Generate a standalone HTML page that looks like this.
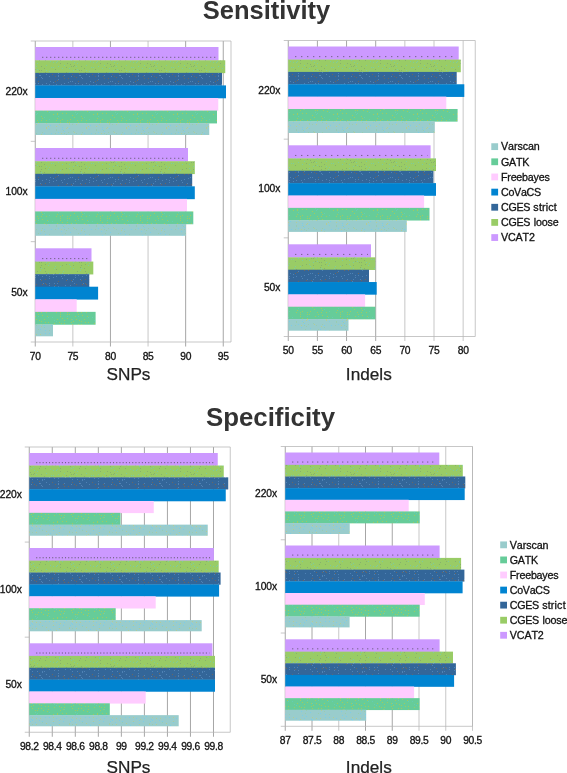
<!DOCTYPE html>
<html><head><meta charset="utf-8"><title>Sensitivity and Specificity</title>
<style>html,body{margin:0;padding:0;background:#fff}svg{display:block}text{font-family:"Liberation Sans",sans-serif;font-kerning:none}.s{font-size:10.3px;fill:#111;stroke:#111;stroke-width:.3px;letter-spacing:-.35px}.l{font-size:10.7px;fill:#111;stroke:#111;stroke-width:.3px;letter-spacing:-.3px}</style></head><body>
<svg width="567" height="773" viewBox="0 0 567 773">
<rect width="567" height="773" fill="#fff"/>
<defs>
<pattern id="nloose" width="40" height="24" patternUnits="userSpaceOnUse">
<rect width="40" height="24" fill="#99cc66"/>
<rect x="1" y="1" width="1" height="1" fill="#7a9a70" opacity=".55"/>
<rect x="0" y="3" width="1" height="1" fill="#7a9a70" opacity=".55"/>
<rect x="1" y="4" width="1" height="1" fill="#66cccc" opacity=".55"/>
<rect x="0" y="6" width="1" height="1" fill="#66cccc" opacity=".55"/>
<rect x="0" y="10" width="1" height="1" fill="#7a9a70" opacity=".55"/>
<rect x="1" y="18" width="1" height="1" fill="#7a9a70" opacity=".55"/>
<rect x="1" y="22" width="1" height="1" fill="#7a9a70" opacity=".55"/>
<rect x="5" y="0" width="1" height="1" fill="#7a9a70" opacity=".55"/>
<rect x="4" y="4" width="1" height="1" fill="#7a9a70" opacity=".55"/>
<rect x="5" y="7" width="1" height="1" fill="#7a9a70" opacity=".55"/>
<rect x="6" y="9" width="1" height="1" fill="#7a9a70" opacity=".55"/>
<rect x="5" y="12" width="1" height="1" fill="#7a9a70" opacity=".55"/>
<rect x="6" y="17" width="1" height="1" fill="#66cccc" opacity=".55"/>
<rect x="4" y="20" width="1" height="1" fill="#7a9a70" opacity=".55"/>
<rect x="6" y="22" width="1" height="1" fill="#66cccc" opacity=".55"/>
<rect x="8" y="1" width="1" height="1" fill="#66cccc" opacity=".55"/>
<rect x="8" y="9" width="1" height="1" fill="#66cccc" opacity=".55"/>
<rect x="10" y="13" width="1" height="1" fill="#66cccc" opacity=".55"/>
<rect x="11" y="19" width="1" height="1" fill="#66cccc" opacity=".55"/>
<rect x="9" y="23" width="1" height="1" fill="#66cccc" opacity=".55"/>
<rect x="15" y="2" width="1" height="1" fill="#66cccc" opacity=".55"/>
<rect x="14" y="4" width="1" height="1" fill="#66cccc" opacity=".55"/>
<rect x="15" y="9" width="1" height="1" fill="#7a9a70" opacity=".55"/>
<rect x="13" y="14" width="1" height="1" fill="#66cccc" opacity=".55"/>
<rect x="13" y="19" width="1" height="1" fill="#66cccc" opacity=".55"/>
<rect x="15" y="21" width="1" height="1" fill="#7a9a70" opacity=".55"/>
<rect x="16" y="5" width="1" height="1" fill="#7a9a70" opacity=".55"/>
<rect x="19" y="9" width="1" height="1" fill="#66cccc" opacity=".55"/>
<rect x="19" y="10" width="1" height="1" fill="#66cccc" opacity=".55"/>
<rect x="17" y="13" width="1" height="1" fill="#66cccc" opacity=".55"/>
<rect x="16" y="14" width="1" height="1" fill="#66cccc" opacity=".55"/>
<rect x="18" y="18" width="1" height="1" fill="#66cccc" opacity=".55"/>
<rect x="22" y="1" width="1" height="1" fill="#7a9a70" opacity=".55"/>
<rect x="20" y="2" width="1" height="1" fill="#66cccc" opacity=".55"/>
<rect x="23" y="7" width="1" height="1" fill="#66cccc" opacity=".55"/>
<rect x="22" y="9" width="1" height="1" fill="#66cccc" opacity=".55"/>
<rect x="20" y="12" width="1" height="1" fill="#7a9a70" opacity=".55"/>
<rect x="20" y="15" width="1" height="1" fill="#7a9a70" opacity=".55"/>
<rect x="22" y="20" width="1" height="1" fill="#66cccc" opacity=".55"/>
<rect x="26" y="0" width="1" height="1" fill="#7a9a70" opacity=".55"/>
<rect x="27" y="15" width="1" height="1" fill="#7a9a70" opacity=".55"/>
<rect x="24" y="17" width="1" height="1" fill="#66cccc" opacity=".55"/>
<rect x="26" y="19" width="1" height="1" fill="#7a9a70" opacity=".55"/>
<rect x="29" y="0" width="1" height="1" fill="#66cccc" opacity=".55"/>
<rect x="30" y="2" width="1" height="1" fill="#66cccc" opacity=".55"/>
<rect x="30" y="10" width="1" height="1" fill="#7a9a70" opacity=".55"/>
<rect x="31" y="12" width="1" height="1" fill="#66cccc" opacity=".55"/>
<rect x="30" y="16" width="1" height="1" fill="#7a9a70" opacity=".55"/>
<rect x="31" y="18" width="1" height="1" fill="#7a9a70" opacity=".55"/>
<rect x="29" y="20" width="1" height="1" fill="#66cccc" opacity=".55"/>
<rect x="33" y="1" width="1" height="1" fill="#7a9a70" opacity=".55"/>
<rect x="33" y="4" width="1" height="1" fill="#66cccc" opacity=".55"/>
<rect x="33" y="11" width="1" height="1" fill="#66cccc" opacity=".55"/>
<rect x="34" y="14" width="1" height="1" fill="#66cccc" opacity=".55"/>
<rect x="34" y="17" width="1" height="1" fill="#7a9a70" opacity=".55"/>
<rect x="33" y="18" width="1" height="1" fill="#7a9a70" opacity=".55"/>
<rect x="35" y="21" width="1" height="1" fill="#7a9a70" opacity=".55"/>
<rect x="33" y="22" width="1" height="1" fill="#66cccc" opacity=".55"/>
<rect x="37" y="7" width="1" height="1" fill="#7a9a70" opacity=".55"/>
<rect x="39" y="12" width="1" height="1" fill="#7a9a70" opacity=".55"/>
<rect x="37" y="15" width="1" height="1" fill="#66cccc" opacity=".55"/>
<rect x="36" y="18" width="1" height="1" fill="#66cccc" opacity=".55"/>
<rect x="37" y="21" width="1" height="1" fill="#66cccc" opacity=".55"/>
<rect x="39" y="22" width="1" height="1" fill="#7a9a70" opacity=".55"/>
</pattern>
<pattern id="nstrict" width="40" height="24" patternUnits="userSpaceOnUse">
<rect width="40" height="24" fill="#336699"/>
<rect x="2" y="0" width="1" height="1" fill="#6699cc" opacity=".55"/>
<rect x="0" y="3" width="1" height="1" fill="#6699cc" opacity=".55"/>
<rect x="1" y="5" width="1" height="1" fill="#6699cc" opacity=".55"/>
<rect x="2" y="6" width="1" height="1" fill="#6699cc" opacity=".55"/>
<rect x="2" y="12" width="1" height="1" fill="#6699cc" opacity=".55"/>
<rect x="0" y="15" width="1" height="1" fill="#6699cc" opacity=".55"/>
<rect x="1" y="16" width="1" height="1" fill="#996633" opacity=".55"/>
<rect x="3" y="19" width="1" height="1" fill="#6699cc" opacity=".55"/>
<rect x="2" y="20" width="1" height="1" fill="#996633" opacity=".55"/>
<rect x="2" y="23" width="1" height="1" fill="#6699cc" opacity=".55"/>
<rect x="6" y="2" width="1" height="1" fill="#6699cc" opacity=".55"/>
<rect x="6" y="11" width="1" height="1" fill="#6699cc" opacity=".55"/>
<rect x="5" y="15" width="1" height="1" fill="#996633" opacity=".55"/>
<rect x="5" y="19" width="1" height="1" fill="#996633" opacity=".55"/>
<rect x="6" y="20" width="1" height="1" fill="#996633" opacity=".55"/>
<rect x="4" y="23" width="1" height="1" fill="#6699cc" opacity=".55"/>
<rect x="9" y="4" width="1" height="1" fill="#6699cc" opacity=".55"/>
<rect x="10" y="9" width="1" height="1" fill="#6699cc" opacity=".55"/>
<rect x="9" y="12" width="1" height="1" fill="#6699cc" opacity=".55"/>
<rect x="9" y="14" width="1" height="1" fill="#6699cc" opacity=".55"/>
<rect x="9" y="19" width="1" height="1" fill="#6699cc" opacity=".55"/>
<rect x="9" y="21" width="1" height="1" fill="#6699cc" opacity=".55"/>
<rect x="12" y="2" width="1" height="1" fill="#996633" opacity=".55"/>
<rect x="15" y="4" width="1" height="1" fill="#996633" opacity=".55"/>
<rect x="15" y="9" width="1" height="1" fill="#996633" opacity=".55"/>
<rect x="13" y="10" width="1" height="1" fill="#6699cc" opacity=".55"/>
<rect x="13" y="13" width="1" height="1" fill="#6699cc" opacity=".55"/>
<rect x="14" y="19" width="1" height="1" fill="#6699cc" opacity=".55"/>
<rect x="15" y="21" width="1" height="1" fill="#996633" opacity=".55"/>
<rect x="14" y="22" width="1" height="1" fill="#6699cc" opacity=".55"/>
<rect x="18" y="1" width="1" height="1" fill="#6699cc" opacity=".55"/>
<rect x="18" y="3" width="1" height="1" fill="#6699cc" opacity=".55"/>
<rect x="18" y="4" width="1" height="1" fill="#6699cc" opacity=".55"/>
<rect x="18" y="7" width="1" height="1" fill="#6699cc" opacity=".55"/>
<rect x="17" y="8" width="1" height="1" fill="#996633" opacity=".55"/>
<rect x="16" y="12" width="1" height="1" fill="#6699cc" opacity=".55"/>
<rect x="18" y="17" width="1" height="1" fill="#996633" opacity=".55"/>
<rect x="17" y="19" width="1" height="1" fill="#6699cc" opacity=".55"/>
<rect x="18" y="22" width="1" height="1" fill="#6699cc" opacity=".55"/>
<rect x="23" y="4" width="1" height="1" fill="#996633" opacity=".55"/>
<rect x="21" y="12" width="1" height="1" fill="#6699cc" opacity=".55"/>
<rect x="22" y="14" width="1" height="1" fill="#6699cc" opacity=".55"/>
<rect x="24" y="3" width="1" height="1" fill="#6699cc" opacity=".55"/>
<rect x="24" y="6" width="1" height="1" fill="#996633" opacity=".55"/>
<rect x="24" y="11" width="1" height="1" fill="#6699cc" opacity=".55"/>
<rect x="27" y="15" width="1" height="1" fill="#6699cc" opacity=".55"/>
<rect x="26" y="16" width="1" height="1" fill="#996633" opacity=".55"/>
<rect x="25" y="21" width="1" height="1" fill="#6699cc" opacity=".55"/>
<rect x="31" y="4" width="1" height="1" fill="#6699cc" opacity=".55"/>
<rect x="28" y="6" width="1" height="1" fill="#996633" opacity=".55"/>
<rect x="30" y="9" width="1" height="1" fill="#6699cc" opacity=".55"/>
<rect x="28" y="10" width="1" height="1" fill="#6699cc" opacity=".55"/>
<rect x="31" y="16" width="1" height="1" fill="#996633" opacity=".55"/>
<rect x="30" y="21" width="1" height="1" fill="#6699cc" opacity=".55"/>
<rect x="32" y="2" width="1" height="1" fill="#996633" opacity=".55"/>
<rect x="34" y="4" width="1" height="1" fill="#996633" opacity=".55"/>
<rect x="32" y="9" width="1" height="1" fill="#6699cc" opacity=".55"/>
<rect x="35" y="11" width="1" height="1" fill="#6699cc" opacity=".55"/>
<rect x="35" y="13" width="1" height="1" fill="#6699cc" opacity=".55"/>
<rect x="33" y="15" width="1" height="1" fill="#6699cc" opacity=".55"/>
<rect x="32" y="17" width="1" height="1" fill="#6699cc" opacity=".55"/>
<rect x="34" y="19" width="1" height="1" fill="#6699cc" opacity=".55"/>
<rect x="32" y="23" width="1" height="1" fill="#6699cc" opacity=".55"/>
<rect x="39" y="1" width="1" height="1" fill="#996633" opacity=".55"/>
<rect x="39" y="3" width="1" height="1" fill="#6699cc" opacity=".55"/>
<rect x="36" y="5" width="1" height="1" fill="#996633" opacity=".55"/>
<rect x="38" y="9" width="1" height="1" fill="#996633" opacity=".55"/>
<rect x="38" y="11" width="1" height="1" fill="#6699cc" opacity=".55"/>
<rect x="36" y="20" width="1" height="1" fill="#996633" opacity=".55"/>
<rect x="37" y="23" width="1" height="1" fill="#6699cc" opacity=".55"/>
</pattern>
<pattern id="nGATK" width="40" height="24" patternUnits="userSpaceOnUse">
<rect width="40" height="24" fill="#66cc99"/>
<rect x="1" y="0" width="1" height="1" fill="#cccc33" opacity=".55"/>
<rect x="2" y="3" width="1" height="1" fill="#cccc33" opacity=".55"/>
<rect x="1" y="9" width="1" height="1" fill="#cccc33" opacity=".55"/>
<rect x="1" y="12" width="1" height="1" fill="#cccc33" opacity=".55"/>
<rect x="3" y="14" width="1" height="1" fill="#cccc33" opacity=".55"/>
<rect x="1" y="20" width="1" height="1" fill="#cccc33" opacity=".55"/>
<rect x="2" y="22" width="1" height="1" fill="#cccc33" opacity=".55"/>
<rect x="6" y="0" width="1" height="1" fill="#cccc33" opacity=".55"/>
<rect x="7" y="4" width="1" height="1" fill="#cccc33" opacity=".55"/>
<rect x="4" y="7" width="1" height="1" fill="#cccc33" opacity=".55"/>
<rect x="5" y="10" width="1" height="1" fill="#cccc33" opacity=".55"/>
<rect x="7" y="15" width="1" height="1" fill="#cccc33" opacity=".55"/>
<rect x="4" y="21" width="1" height="1" fill="#66cccc" opacity=".55"/>
<rect x="8" y="5" width="1" height="1" fill="#66cccc" opacity=".55"/>
<rect x="8" y="10" width="1" height="1" fill="#cccc33" opacity=".55"/>
<rect x="8" y="13" width="1" height="1" fill="#cccc33" opacity=".55"/>
<rect x="9" y="16" width="1" height="1" fill="#66cccc" opacity=".55"/>
<rect x="9" y="23" width="1" height="1" fill="#66cccc" opacity=".55"/>
<rect x="12" y="5" width="1" height="1" fill="#66cccc" opacity=".55"/>
<rect x="14" y="8" width="1" height="1" fill="#66cccc" opacity=".55"/>
<rect x="14" y="11" width="1" height="1" fill="#cccc33" opacity=".55"/>
<rect x="13" y="18" width="1" height="1" fill="#cccc33" opacity=".55"/>
<rect x="16" y="0" width="1" height="1" fill="#cccc33" opacity=".55"/>
<rect x="17" y="7" width="1" height="1" fill="#cccc33" opacity=".55"/>
<rect x="16" y="9" width="1" height="1" fill="#66cccc" opacity=".55"/>
<rect x="19" y="10" width="1" height="1" fill="#cccc33" opacity=".55"/>
<rect x="17" y="17" width="1" height="1" fill="#cccc33" opacity=".55"/>
<rect x="17" y="18" width="1" height="1" fill="#cccc33" opacity=".55"/>
<rect x="18" y="20" width="1" height="1" fill="#66cccc" opacity=".55"/>
<rect x="17" y="22" width="1" height="1" fill="#cccc33" opacity=".55"/>
<rect x="20" y="0" width="1" height="1" fill="#cccc33" opacity=".55"/>
<rect x="20" y="2" width="1" height="1" fill="#cccc33" opacity=".55"/>
<rect x="20" y="4" width="1" height="1" fill="#cccc33" opacity=".55"/>
<rect x="22" y="6" width="1" height="1" fill="#cccc33" opacity=".55"/>
<rect x="21" y="11" width="1" height="1" fill="#cccc33" opacity=".55"/>
<rect x="23" y="13" width="1" height="1" fill="#cccc33" opacity=".55"/>
<rect x="20" y="14" width="1" height="1" fill="#cccc33" opacity=".55"/>
<rect x="22" y="17" width="1" height="1" fill="#cccc33" opacity=".55"/>
<rect x="22" y="23" width="1" height="1" fill="#cccc33" opacity=".55"/>
<rect x="27" y="0" width="1" height="1" fill="#cccc33" opacity=".55"/>
<rect x="27" y="2" width="1" height="1" fill="#cccc33" opacity=".55"/>
<rect x="27" y="4" width="1" height="1" fill="#66cccc" opacity=".55"/>
<rect x="27" y="6" width="1" height="1" fill="#cccc33" opacity=".55"/>
<rect x="24" y="8" width="1" height="1" fill="#cccc33" opacity=".55"/>
<rect x="24" y="11" width="1" height="1" fill="#cccc33" opacity=".55"/>
<rect x="24" y="13" width="1" height="1" fill="#66cccc" opacity=".55"/>
<rect x="26" y="17" width="1" height="1" fill="#cccc33" opacity=".55"/>
<rect x="29" y="2" width="1" height="1" fill="#cccc33" opacity=".55"/>
<rect x="31" y="7" width="1" height="1" fill="#cccc33" opacity=".55"/>
<rect x="31" y="10" width="1" height="1" fill="#cccc33" opacity=".55"/>
<rect x="30" y="23" width="1" height="1" fill="#cccc33" opacity=".55"/>
<rect x="35" y="4" width="1" height="1" fill="#cccc33" opacity=".55"/>
<rect x="32" y="7" width="1" height="1" fill="#66cccc" opacity=".55"/>
<rect x="33" y="9" width="1" height="1" fill="#cccc33" opacity=".55"/>
<rect x="32" y="12" width="1" height="1" fill="#cccc33" opacity=".55"/>
<rect x="35" y="14" width="1" height="1" fill="#cccc33" opacity=".55"/>
<rect x="35" y="16" width="1" height="1" fill="#66cccc" opacity=".55"/>
<rect x="32" y="19" width="1" height="1" fill="#cccc33" opacity=".55"/>
<rect x="34" y="21" width="1" height="1" fill="#cccc33" opacity=".55"/>
<rect x="37" y="0" width="1" height="1" fill="#cccc33" opacity=".55"/>
<rect x="38" y="2" width="1" height="1" fill="#cccc33" opacity=".55"/>
<rect x="38" y="4" width="1" height="1" fill="#66cccc" opacity=".55"/>
<rect x="36" y="7" width="1" height="1" fill="#cccc33" opacity=".55"/>
<rect x="39" y="8" width="1" height="1" fill="#cccc33" opacity=".55"/>
<rect x="38" y="12" width="1" height="1" fill="#cccc33" opacity=".55"/>
<rect x="37" y="14" width="1" height="1" fill="#cccc33" opacity=".55"/>
<rect x="37" y="17" width="1" height="1" fill="#66cccc" opacity=".55"/>
<rect x="36" y="18" width="1" height="1" fill="#66cccc" opacity=".55"/>
</pattern>
<pattern id="nVarscan" width="40" height="24" patternUnits="userSpaceOnUse">
<rect width="40" height="24" fill="#99cccc"/>
<rect x="2" y="1" width="1" height="1" fill="#66ccff" opacity=".55"/>
<rect x="2" y="2" width="1" height="1" fill="#99cc99" opacity=".55"/>
<rect x="2" y="12" width="1" height="1" fill="#99cc99" opacity=".55"/>
<rect x="1" y="14" width="1" height="1" fill="#cccc66" opacity=".55"/>
<rect x="0" y="17" width="1" height="1" fill="#66ccff" opacity=".55"/>
<rect x="0" y="22" width="1" height="1" fill="#cccc66" opacity=".55"/>
<rect x="6" y="3" width="1" height="1" fill="#cccc66" opacity=".55"/>
<rect x="6" y="7" width="1" height="1" fill="#cccc66" opacity=".55"/>
<rect x="6" y="8" width="1" height="1" fill="#cccc66" opacity=".55"/>
<rect x="4" y="13" width="1" height="1" fill="#66ccff" opacity=".55"/>
<rect x="4" y="15" width="1" height="1" fill="#99cc99" opacity=".55"/>
<rect x="5" y="18" width="1" height="1" fill="#66ccff" opacity=".55"/>
<rect x="5" y="21" width="1" height="1" fill="#66ccff" opacity=".55"/>
<rect x="10" y="5" width="1" height="1" fill="#66ccff" opacity=".55"/>
<rect x="8" y="6" width="1" height="1" fill="#cccc66" opacity=".55"/>
<rect x="9" y="9" width="1" height="1" fill="#66ccff" opacity=".55"/>
<rect x="11" y="13" width="1" height="1" fill="#66ccff" opacity=".55"/>
<rect x="9" y="18" width="1" height="1" fill="#99cc99" opacity=".55"/>
<rect x="9" y="21" width="1" height="1" fill="#66ccff" opacity=".55"/>
<rect x="13" y="1" width="1" height="1" fill="#cccc66" opacity=".55"/>
<rect x="13" y="2" width="1" height="1" fill="#66ccff" opacity=".55"/>
<rect x="15" y="13" width="1" height="1" fill="#99cc99" opacity=".55"/>
<rect x="13" y="21" width="1" height="1" fill="#cccc66" opacity=".55"/>
<rect x="19" y="0" width="1" height="1" fill="#66ccff" opacity=".55"/>
<rect x="19" y="3" width="1" height="1" fill="#66ccff" opacity=".55"/>
<rect x="19" y="4" width="1" height="1" fill="#cccc66" opacity=".55"/>
<rect x="16" y="6" width="1" height="1" fill="#cccc66" opacity=".55"/>
<rect x="16" y="9" width="1" height="1" fill="#99cc99" opacity=".55"/>
<rect x="16" y="10" width="1" height="1" fill="#99cc99" opacity=".55"/>
<rect x="18" y="12" width="1" height="1" fill="#66ccff" opacity=".55"/>
<rect x="16" y="22" width="1" height="1" fill="#66ccff" opacity=".55"/>
<rect x="23" y="1" width="1" height="1" fill="#66ccff" opacity=".55"/>
<rect x="22" y="7" width="1" height="1" fill="#66ccff" opacity=".55"/>
<rect x="22" y="9" width="1" height="1" fill="#66ccff" opacity=".55"/>
<rect x="23" y="10" width="1" height="1" fill="#99cc99" opacity=".55"/>
<rect x="21" y="13" width="1" height="1" fill="#cccc66" opacity=".55"/>
<rect x="21" y="15" width="1" height="1" fill="#66ccff" opacity=".55"/>
<rect x="22" y="19" width="1" height="1" fill="#66ccff" opacity=".55"/>
<rect x="20" y="23" width="1" height="1" fill="#cccc66" opacity=".55"/>
<rect x="27" y="7" width="1" height="1" fill="#cccc66" opacity=".55"/>
<rect x="26" y="8" width="1" height="1" fill="#cccc66" opacity=".55"/>
<rect x="24" y="11" width="1" height="1" fill="#66ccff" opacity=".55"/>
<rect x="24" y="13" width="1" height="1" fill="#99cc99" opacity=".55"/>
<rect x="26" y="14" width="1" height="1" fill="#99cc99" opacity=".55"/>
<rect x="25" y="17" width="1" height="1" fill="#99cc99" opacity=".55"/>
<rect x="26" y="20" width="1" height="1" fill="#66ccff" opacity=".55"/>
<rect x="24" y="22" width="1" height="1" fill="#66ccff" opacity=".55"/>
<rect x="30" y="1" width="1" height="1" fill="#66ccff" opacity=".55"/>
<rect x="29" y="3" width="1" height="1" fill="#99cc99" opacity=".55"/>
<rect x="29" y="4" width="1" height="1" fill="#cccc66" opacity=".55"/>
<rect x="29" y="8" width="1" height="1" fill="#66ccff" opacity=".55"/>
<rect x="28" y="12" width="1" height="1" fill="#99cc99" opacity=".55"/>
<rect x="30" y="16" width="1" height="1" fill="#66ccff" opacity=".55"/>
<rect x="31" y="23" width="1" height="1" fill="#66ccff" opacity=".55"/>
<rect x="32" y="0" width="1" height="1" fill="#66ccff" opacity=".55"/>
<rect x="35" y="2" width="1" height="1" fill="#66ccff" opacity=".55"/>
<rect x="32" y="4" width="1" height="1" fill="#99cc99" opacity=".55"/>
<rect x="33" y="11" width="1" height="1" fill="#99cc99" opacity=".55"/>
<rect x="34" y="12" width="1" height="1" fill="#cccc66" opacity=".55"/>
<rect x="32" y="21" width="1" height="1" fill="#cccc66" opacity=".55"/>
<rect x="39" y="0" width="1" height="1" fill="#66ccff" opacity=".55"/>
<rect x="36" y="4" width="1" height="1" fill="#cccc66" opacity=".55"/>
<rect x="36" y="13" width="1" height="1" fill="#99cc99" opacity=".55"/>
<rect x="38" y="17" width="1" height="1" fill="#99cc99" opacity=".55"/>
<rect x="36" y="22" width="1" height="1" fill="#cccc66" opacity=".55"/>
</pattern>
</defs>
<text x="266.5" y="18.6" font-size="25.5" font-weight="bold" fill="#333" text-anchor="middle">Sensitivity</text>
<text x="270.5" y="426" font-size="25.8" font-weight="bold" fill="#333" text-anchor="middle">Specificity</text>
<g>
<line x1="35.25" y1="41" x2="35.25" y2="346.5" stroke="#888888" stroke-width="0.75"/>
<line x1="72.85" y1="41" x2="72.85" y2="346.5" stroke="#b4b4b4" stroke-width="0.75"/>
<line x1="110.45" y1="41" x2="110.45" y2="346.5" stroke="#888888" stroke-width="0.75"/>
<line x1="148.05" y1="41" x2="148.05" y2="346.5" stroke="#b4b4b4" stroke-width="0.75"/>
<line x1="185.65" y1="41" x2="185.65" y2="346.5" stroke="#888888" stroke-width="0.75"/>
<line x1="223.25" y1="41" x2="223.25" y2="346.5" stroke="#888888" stroke-width="0.75"/>
<path d="M30.75 41H231V342H30.75" fill="none" stroke="#b4b4b4" stroke-width="0.75"/>
<line x1="30.75" y1="141.33" x2="35.25" y2="141.33" stroke="#b4b4b4" stroke-width="0.75"/>
<line x1="30.75" y1="241.67" x2="35.25" y2="241.67" stroke="#b4b4b4" stroke-width="0.75"/>
<rect x="35.25" y="47.00" width="183.25" height="13.57" fill="#cc99ff"/>
<rect x="35.25" y="60.27" width="190.00" height="12.87" fill="url(#nloose)"/>
<rect x="35.25" y="72.84" width="186.75" height="12.87" fill="url(#nstrict)"/>
<rect x="35.25" y="85.41" width="190.75" height="12.87" fill="#0084d1"/>
<rect x="35.25" y="97.99" width="183.00" height="12.87" fill="#ffccff"/>
<rect x="35.25" y="110.56" width="181.75" height="12.87" fill="url(#nGATK)"/>
<rect x="35.25" y="123.13" width="174.00" height="11.87" fill="url(#nVarscan)"/>
<line x1="42.25" y1="57.31" x2="215.50" y2="57.31" stroke="#5b5366" stroke-width="1" stroke-dasharray="1 3"/>
<rect x="35.25" y="148.00" width="152.75" height="13.54" fill="#cc99ff"/>
<rect x="35.25" y="161.24" width="159.55" height="12.84" fill="url(#nloose)"/>
<rect x="35.25" y="173.79" width="156.95" height="12.84" fill="url(#nstrict)"/>
<rect x="35.25" y="186.33" width="159.55" height="12.84" fill="#0084d1"/>
<rect x="35.25" y="198.87" width="151.75" height="12.84" fill="#ffccff"/>
<rect x="35.25" y="211.41" width="158.05" height="12.84" fill="url(#nGATK)"/>
<rect x="35.25" y="223.96" width="150.65" height="11.84" fill="url(#nVarscan)"/>
<line x1="42.25" y1="158.29" x2="185.00" y2="158.29" stroke="#5b5366" stroke-width="1" stroke-dasharray="1 3"/>
<rect x="35.25" y="248.30" width="56.25" height="13.57" fill="#cc99ff"/>
<rect x="35.25" y="261.57" width="58.05" height="12.87" fill="url(#nloose)"/>
<rect x="35.25" y="274.14" width="54.05" height="12.87" fill="url(#nstrict)"/>
<rect x="35.25" y="286.71" width="62.85" height="12.87" fill="#0084d1"/>
<rect x="35.25" y="299.29" width="41.45" height="12.87" fill="#ffccff"/>
<rect x="35.25" y="311.86" width="60.35" height="12.87" fill="url(#nGATK)"/>
<rect x="35.25" y="324.43" width="17.75" height="11.87" fill="url(#nVarscan)"/>
<line x1="42.25" y1="258.61" x2="88.50" y2="258.61" stroke="#5b5366" stroke-width="1" stroke-dasharray="1 3"/>
<text x="27.5" y="95" class="s" style="letter-spacing:-.1px" text-anchor="end">220x</text>
<text x="27.5" y="195" class="s" style="letter-spacing:-.1px" text-anchor="end">100x</text>
<text x="27.5" y="296" class="s" style="letter-spacing:-.1px" text-anchor="end">50x</text>
<text x="35.25" y="360" class="s" text-anchor="middle">70</text>
<text x="72.85" y="360" class="s" text-anchor="middle">75</text>
<text x="110.45" y="360" class="s" text-anchor="middle">80</text>
<text x="148.05" y="360" class="s" text-anchor="middle">85</text>
<text x="185.65" y="360" class="s" text-anchor="middle">90</text>
<text x="223.25" y="360" class="s" text-anchor="middle">95</text>
<text x="128.5" y="380.4" font-size="17.2" fill="#222" stroke="#222" stroke-width=".25" text-anchor="middle">SNPs</text>
</g>
<g>
<line x1="288.25" y1="40.5" x2="288.25" y2="341.0" stroke="#888888" stroke-width="0.75"/>
<line x1="317.40" y1="40.5" x2="317.40" y2="341.0" stroke="#888888" stroke-width="0.75"/>
<line x1="346.55" y1="40.5" x2="346.55" y2="341.0" stroke="#888888" stroke-width="0.75"/>
<line x1="375.70" y1="40.5" x2="375.70" y2="341.0" stroke="#888888" stroke-width="0.75"/>
<line x1="404.85" y1="40.5" x2="404.85" y2="341.0" stroke="#b4b4b4" stroke-width="0.75"/>
<line x1="434.00" y1="40.5" x2="434.00" y2="341.0" stroke="#b4b4b4" stroke-width="0.75"/>
<line x1="463.15" y1="40.5" x2="463.15" y2="341.0" stroke="#b4b4b4" stroke-width="0.75"/>
<path d="M283.75 40.5H475.25V336.5H283.75" fill="none" stroke="#b4b4b4" stroke-width="0.75"/>
<line x1="283.75" y1="139.17" x2="288.25" y2="139.17" stroke="#b4b4b4" stroke-width="0.75"/>
<line x1="283.75" y1="237.83" x2="288.25" y2="237.83" stroke="#b4b4b4" stroke-width="0.75"/>
<rect x="288.25" y="46.50" width="170.45" height="13.36" fill="#cc99ff"/>
<rect x="288.25" y="59.56" width="172.55" height="12.66" fill="url(#nloose)"/>
<rect x="288.25" y="71.91" width="168.45" height="12.66" fill="url(#nstrict)"/>
<rect x="288.25" y="84.27" width="176.05" height="12.66" fill="#0084d1"/>
<rect x="288.25" y="96.63" width="158.05" height="12.66" fill="#ffccff"/>
<rect x="288.25" y="108.99" width="169.35" height="12.66" fill="url(#nGATK)"/>
<rect x="288.25" y="121.34" width="146.45" height="11.66" fill="url(#nVarscan)"/>
<line x1="295.25" y1="56.63" x2="455.70" y2="56.63" stroke="#5b5366" stroke-width="1" stroke-dasharray="1 5"/>
<rect x="288.25" y="145.30" width="142.35" height="13.37" fill="#cc99ff"/>
<rect x="288.25" y="158.37" width="147.75" height="12.67" fill="url(#nloose)"/>
<rect x="288.25" y="170.74" width="145.15" height="12.67" fill="url(#nstrict)"/>
<rect x="288.25" y="183.11" width="147.75" height="12.67" fill="#0084d1"/>
<rect x="288.25" y="195.49" width="135.85" height="12.67" fill="#ffccff"/>
<rect x="288.25" y="207.86" width="141.25" height="12.67" fill="url(#nGATK)"/>
<rect x="288.25" y="220.23" width="118.55" height="11.67" fill="url(#nVarscan)"/>
<line x1="295.25" y1="155.44" x2="427.60" y2="155.44" stroke="#5b5366" stroke-width="1" stroke-dasharray="1 5"/>
<rect x="288.25" y="244.30" width="82.75" height="13.34" fill="#cc99ff"/>
<rect x="288.25" y="257.34" width="87.15" height="12.64" fill="url(#nloose)"/>
<rect x="288.25" y="269.69" width="80.75" height="12.64" fill="url(#nstrict)"/>
<rect x="288.25" y="282.03" width="88.45" height="12.64" fill="#0084d1"/>
<rect x="288.25" y="294.37" width="76.85" height="12.64" fill="#ffccff"/>
<rect x="288.25" y="306.71" width="87.15" height="12.64" fill="url(#nGATK)"/>
<rect x="288.25" y="319.06" width="60.25" height="11.64" fill="url(#nVarscan)"/>
<line x1="295.25" y1="254.42" x2="368.00" y2="254.42" stroke="#5b5366" stroke-width="1" stroke-dasharray="1 5"/>
<text x="280.2" y="94" class="s" style="letter-spacing:-.1px" text-anchor="end">220x</text>
<text x="280.2" y="192" class="s" style="letter-spacing:-.1px" text-anchor="end">100x</text>
<text x="280.2" y="291" class="s" style="letter-spacing:-.1px" text-anchor="end">50x</text>
<text x="288.25" y="354" class="s" text-anchor="middle">50</text>
<text x="317.40" y="354" class="s" text-anchor="middle">55</text>
<text x="346.55" y="354" class="s" text-anchor="middle">60</text>
<text x="375.70" y="354" class="s" text-anchor="middle">65</text>
<text x="404.85" y="354" class="s" text-anchor="middle">70</text>
<text x="434.00" y="354" class="s" text-anchor="middle">75</text>
<text x="463.15" y="354" class="s" text-anchor="middle">80</text>
<text x="368.8" y="380.4" font-size="17.2" fill="#222" stroke="#222" stroke-width=".25" text-anchor="middle">Indels</text>
</g>
<g>
<line x1="29.25" y1="447" x2="29.25" y2="736.75" stroke="#888888" stroke-width="0.75"/>
<line x1="52.28" y1="447" x2="52.28" y2="736.75" stroke="#888888" stroke-width="0.75"/>
<line x1="75.31" y1="447" x2="75.31" y2="736.75" stroke="#888888" stroke-width="0.75"/>
<line x1="98.34" y1="447" x2="98.34" y2="736.75" stroke="#888888" stroke-width="0.75"/>
<line x1="121.37" y1="447" x2="121.37" y2="736.75" stroke="#888888" stroke-width="0.75"/>
<line x1="144.40" y1="447" x2="144.40" y2="736.75" stroke="#888888" stroke-width="0.75"/>
<line x1="167.43" y1="447" x2="167.43" y2="736.75" stroke="#888888" stroke-width="0.75"/>
<line x1="190.46" y1="447" x2="190.46" y2="736.75" stroke="#888888" stroke-width="0.75"/>
<line x1="213.49" y1="447" x2="213.49" y2="736.75" stroke="#888888" stroke-width="0.75"/>
<path d="M24.75 447H230.25V732.25H24.75" fill="none" stroke="#b4b4b4" stroke-width="0.75"/>
<line x1="24.75" y1="542.08" x2="29.25" y2="542.08" stroke="#b4b4b4" stroke-width="0.75"/>
<line x1="24.75" y1="637.17" x2="29.25" y2="637.17" stroke="#b4b4b4" stroke-width="0.75"/>
<rect x="29.25" y="453.00" width="188.50" height="12.82" fill="#cc99ff"/>
<rect x="29.25" y="465.52" width="194.50" height="12.12" fill="url(#nloose)"/>
<rect x="29.25" y="477.34" width="199.00" height="12.12" fill="url(#nstrict)"/>
<rect x="29.25" y="489.16" width="196.50" height="12.12" fill="#0084d1"/>
<rect x="29.25" y="500.99" width="124.50" height="12.12" fill="#ffccff"/>
<rect x="29.25" y="512.81" width="91.25" height="12.12" fill="url(#nGATK)"/>
<rect x="29.25" y="524.63" width="178.50" height="11.12" fill="url(#nVarscan)"/>
<line x1="36.25" y1="462.69" x2="214.75" y2="462.69" stroke="#5b5366" stroke-width="1" stroke-dasharray="1 2.2"/>
<rect x="29.25" y="548.00" width="184.65" height="12.90" fill="#cc99ff"/>
<rect x="29.25" y="560.60" width="189.45" height="12.20" fill="url(#nloose)"/>
<rect x="29.25" y="572.50" width="191.35" height="12.20" fill="url(#nstrict)"/>
<rect x="29.25" y="584.40" width="189.85" height="12.20" fill="#0084d1"/>
<rect x="29.25" y="596.30" width="126.45" height="12.20" fill="#ffccff"/>
<rect x="29.25" y="608.20" width="86.45" height="12.20" fill="url(#nGATK)"/>
<rect x="29.25" y="620.10" width="172.45" height="11.20" fill="url(#nVarscan)"/>
<line x1="36.25" y1="557.76" x2="210.90" y2="557.76" stroke="#5b5366" stroke-width="1" stroke-dasharray="1 2.2"/>
<rect x="29.25" y="643.30" width="183.15" height="12.86" fill="#cc99ff"/>
<rect x="29.25" y="655.86" width="185.75" height="12.16" fill="url(#nloose)"/>
<rect x="29.25" y="667.71" width="185.75" height="12.16" fill="url(#nstrict)"/>
<rect x="29.25" y="679.57" width="185.75" height="12.16" fill="#0084d1"/>
<rect x="29.25" y="691.43" width="116.45" height="12.16" fill="#ffccff"/>
<rect x="29.25" y="703.29" width="80.55" height="12.16" fill="url(#nGATK)"/>
<rect x="29.25" y="715.14" width="149.45" height="11.16" fill="url(#nVarscan)"/>
<line x1="36.25" y1="653.02" x2="209.40" y2="653.02" stroke="#5b5366" stroke-width="1" stroke-dasharray="1 2.2"/>
<text x="21.7" y="498" class="s" style="letter-spacing:-.1px" text-anchor="end">220x</text>
<text x="21.7" y="593" class="s" style="letter-spacing:-.1px" text-anchor="end">100x</text>
<text x="21.7" y="688" class="s" style="letter-spacing:-.1px" text-anchor="end">50x</text>
<text x="29.25" y="750" class="s" text-anchor="middle">98.2</text>
<text x="52.28" y="750" class="s" text-anchor="middle">98.4</text>
<text x="75.31" y="750" class="s" text-anchor="middle">98.6</text>
<text x="98.34" y="750" class="s" text-anchor="middle">98.8</text>
<text x="121.37" y="750" class="s" text-anchor="middle">99</text>
<text x="144.40" y="750" class="s" text-anchor="middle">99.2</text>
<text x="167.43" y="750" class="s" text-anchor="middle">99.4</text>
<text x="190.46" y="750" class="s" text-anchor="middle">99.6</text>
<text x="213.49" y="750" class="s" text-anchor="middle">99.8</text>
<text x="128.5" y="772.5" font-size="17.2" fill="#222" stroke="#222" stroke-width=".25" text-anchor="middle">SNPs</text>
</g>
<g>
<line x1="285.25" y1="446.5" x2="285.25" y2="730.8" stroke="#888888" stroke-width="0.75"/>
<line x1="312.00" y1="446.5" x2="312.00" y2="730.8" stroke="#888888" stroke-width="0.75"/>
<line x1="338.75" y1="446.5" x2="338.75" y2="730.8" stroke="#b4b4b4" stroke-width="0.75"/>
<line x1="365.50" y1="446.5" x2="365.50" y2="730.8" stroke="#888888" stroke-width="0.75"/>
<line x1="392.25" y1="446.5" x2="392.25" y2="730.8" stroke="#888888" stroke-width="0.75"/>
<line x1="419.00" y1="446.5" x2="419.00" y2="730.8" stroke="#b4b4b4" stroke-width="0.75"/>
<line x1="445.75" y1="446.5" x2="445.75" y2="730.8" stroke="#b4b4b4" stroke-width="0.75"/>
<line x1="472.50" y1="446.5" x2="472.50" y2="730.8" stroke="#b4b4b4" stroke-width="0.75"/>
<path d="M280.75 446.5H472.5V726.3H280.75" fill="none" stroke="#b4b4b4" stroke-width="0.75"/>
<line x1="280.75" y1="539.77" x2="285.25" y2="539.77" stroke="#b4b4b4" stroke-width="0.75"/>
<line x1="280.75" y1="633.03" x2="285.25" y2="633.03" stroke="#b4b4b4" stroke-width="0.75"/>
<rect x="285.25" y="452.50" width="154.05" height="12.64" fill="#cc99ff"/>
<rect x="285.25" y="464.84" width="177.55" height="11.94" fill="url(#nloose)"/>
<rect x="285.25" y="476.49" width="180.05" height="11.94" fill="url(#nstrict)"/>
<rect x="285.25" y="488.13" width="179.45" height="11.94" fill="#0084d1"/>
<rect x="285.25" y="499.77" width="123.45" height="11.94" fill="#ffccff"/>
<rect x="285.25" y="511.41" width="134.45" height="11.94" fill="url(#nGATK)"/>
<rect x="285.25" y="523.06" width="64.50" height="10.94" fill="url(#nVarscan)"/>
<line x1="292.25" y1="462.05" x2="436.30" y2="462.05" stroke="#5b5366" stroke-width="1" stroke-dasharray="1 4"/>
<rect x="285.25" y="545.50" width="154.35" height="12.70" fill="#cc99ff"/>
<rect x="285.25" y="557.90" width="175.85" height="12.00" fill="url(#nloose)"/>
<rect x="285.25" y="569.60" width="179.15" height="12.00" fill="url(#nstrict)"/>
<rect x="285.25" y="581.30" width="177.35" height="12.00" fill="#0084d1"/>
<rect x="285.25" y="593.00" width="139.55" height="12.00" fill="#ffccff"/>
<rect x="285.25" y="604.70" width="134.35" height="12.00" fill="url(#nGATK)"/>
<rect x="285.25" y="616.40" width="64.35" height="11.00" fill="url(#nVarscan)"/>
<line x1="292.25" y1="555.09" x2="436.60" y2="555.09" stroke="#5b5366" stroke-width="1" stroke-dasharray="1 4"/>
<rect x="285.25" y="639.30" width="154.35" height="12.63" fill="#cc99ff"/>
<rect x="285.25" y="651.63" width="167.75" height="11.93" fill="url(#nloose)"/>
<rect x="285.25" y="663.26" width="170.65" height="11.93" fill="url(#nstrict)"/>
<rect x="285.25" y="674.89" width="168.85" height="11.93" fill="#0084d1"/>
<rect x="285.25" y="686.51" width="128.85" height="11.93" fill="#ffccff"/>
<rect x="285.25" y="698.14" width="134.35" height="11.93" fill="url(#nGATK)"/>
<rect x="285.25" y="709.77" width="80.95" height="10.93" fill="url(#nVarscan)"/>
<line x1="292.25" y1="648.84" x2="436.60" y2="648.84" stroke="#5b5366" stroke-width="1" stroke-dasharray="1 4"/>
<text x="277.0" y="497" class="s" style="letter-spacing:-.1px" text-anchor="end">220x</text>
<text x="277.0" y="590" class="s" style="letter-spacing:-.1px" text-anchor="end">100x</text>
<text x="277.0" y="683" class="s" style="letter-spacing:-.1px" text-anchor="end">50x</text>
<text x="285.25" y="744" class="s" text-anchor="middle">87</text>
<text x="312.00" y="744" class="s" text-anchor="middle">87.5</text>
<text x="338.75" y="744" class="s" text-anchor="middle">88</text>
<text x="365.50" y="744" class="s" text-anchor="middle">88.5</text>
<text x="392.25" y="744" class="s" text-anchor="middle">89</text>
<text x="419.00" y="744" class="s" text-anchor="middle">89.5</text>
<text x="445.75" y="744" class="s" text-anchor="middle">90</text>
<text x="472.50" y="744" class="s" text-anchor="middle">90.5</text>
<text x="368.8" y="772.5" font-size="17.2" fill="#222" stroke="#222" stroke-width=".25" text-anchor="middle">Indels</text>
</g>
<g>
<rect x="491.3" y="143.25" width="6.8" height="6.8" fill="#99cccc"/>
<text x="501" y="150.45" class="l" style="letter-spacing:-0.08px">Varscan</text>
<rect x="491.3" y="158.40" width="6.8" height="6.8" fill="#66cc99"/>
<text x="501" y="165.60" class="l" style="letter-spacing:-0.25px">GATK</text>
<rect x="491.3" y="173.55" width="6.8" height="6.8" fill="#ffccff"/>
<text x="501" y="180.75" class="l" style="letter-spacing:-0.22px">Freebayes</text>
<rect x="491.3" y="188.70" width="6.8" height="6.8" fill="#0084d1"/>
<text x="501" y="195.90" class="l" style="letter-spacing:-0.3px">CoVaCS</text>
<rect x="491.3" y="203.85" width="6.8" height="6.8" fill="#336699"/>
<text x="501" y="211.05" class="l">CGES <tspan dx="0.6" style="letter-spacing:0.18px">strict</tspan></text>
<rect x="491.3" y="219.00" width="6.8" height="6.8" fill="#99cc66"/>
<text x="501" y="226.20" class="l">CGES <tspan dx="1.0" style="letter-spacing:-0.15px">loose</tspan></text>
<rect x="491.3" y="234.15" width="6.8" height="6.8" fill="#cc99ff"/>
<text x="501" y="241.35" class="l" style="letter-spacing:-0.13px">VCAT2</text>
</g>
<g>
<rect x="500.2" y="541.45" width="6.8" height="6.8" fill="#99cccc"/>
<text x="509.8" y="548.65" class="l" style="letter-spacing:-0.08px">Varscan</text>
<rect x="500.2" y="556.52" width="6.8" height="6.8" fill="#66cc99"/>
<text x="509.8" y="563.72" class="l" style="letter-spacing:-0.25px">GATK</text>
<rect x="500.2" y="571.59" width="6.8" height="6.8" fill="#ffccff"/>
<text x="509.8" y="578.79" class="l" style="letter-spacing:-0.22px">Freebayes</text>
<rect x="500.2" y="586.66" width="6.8" height="6.8" fill="#0084d1"/>
<text x="509.8" y="593.86" class="l" style="letter-spacing:-0.3px">CoVaCS</text>
<rect x="500.2" y="601.73" width="6.8" height="6.8" fill="#336699"/>
<text x="509.8" y="608.93" class="l">CGES <tspan dx="0.6" style="letter-spacing:0.18px">strict</tspan></text>
<rect x="500.2" y="616.80" width="6.8" height="6.8" fill="#99cc66"/>
<text x="509.8" y="624.00" class="l">CGES <tspan dx="1.0" style="letter-spacing:-0.15px">loose</tspan></text>
<rect x="500.2" y="631.87" width="6.8" height="6.8" fill="#cc99ff"/>
<text x="509.8" y="639.07" class="l" style="letter-spacing:-0.13px">VCAT2</text>
</g>
</svg></body></html>
